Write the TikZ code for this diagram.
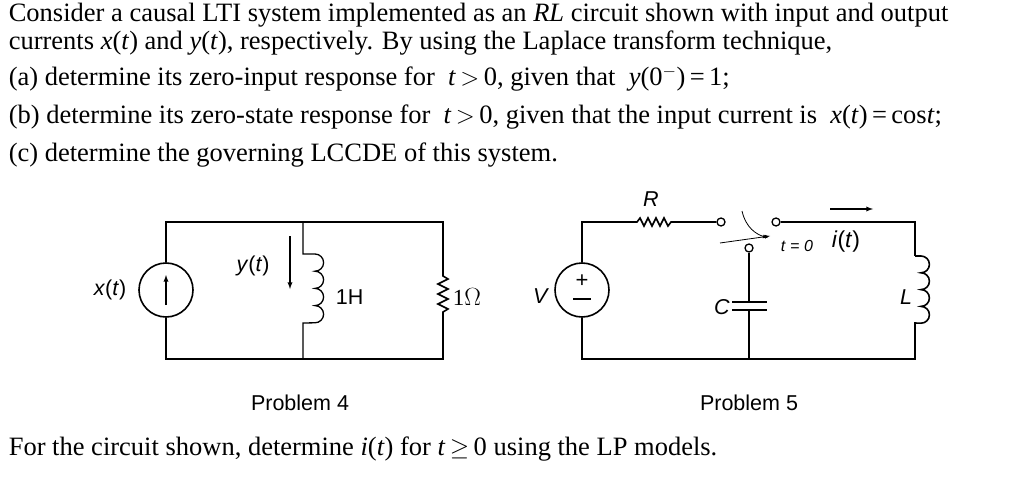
\documentclass[tikz,border=0pt]{standalone}
\usepackage{fontspec}
\setmainfont{Liberation Serif}
\newfontfamily\sansf{Liberation Sans}
\begin{document}
\begin{tikzpicture}[x=1pt,y=-1pt,line width=1.6pt,
  txt/.style={anchor=base west,inner sep=0,font=\fontsize{26.5}{30}\selectfont},
  lab/.style={inner sep=0,font=\sansf\fontsize{21.5}{24}\selectfont},
  term/.style={circle,draw,fill=white,line width=1.3pt,minimum size=8pt,inner sep=0}]
\useasboundingbox (0,0) rectangle (1024,489);
% text
\node[txt] (l1) at (8,22) {Consider a causal LTI system implemented as an \textit{RL} circuit shown with input and output};
\node[txt] (l2) at (8,50) {currents \textit{x}(\textit{t}) and \textit{y}(\textit{t}), respectively. By using the Laplace transform technique,};
\node[txt] (l3) at (8,86) {(a) determine its zero-input response for \ \textit{t}\,$>$\,0, given that \ \textit{y}(0$^{-}$)\,=\,1;};
\node[txt] (l4) at (8,124) {(b) determine its zero-state response for \ \textit{t}\,$>$\,0, given that the input current is \ \textit{x}(\textit{t})\,=\,cos\textit{t};};
\node[txt] (l5) at (8,161) {(c) determine the governing LCCDE of this system.};
\node[txt] (l6) at (8,455) {For the circuit shown, determine \textit{i}(\textit{t}) for \textit{t}\,$\geq$\,0 using the LP models.};
\node[lab] (p4) at (300,403) {Problem 4};
\node[lab] (p5) at (749,403) {Problem 5};
% Problem 4
\node[circle,draw,minimum size=54pt,inner sep=0] (xs) at (166,290) {};
\coordinate (a1) at (166,222); \coordinate (a2) at (303,222); \coordinate (a3) at (443,222);
\coordinate (b1) at (166,359); \coordinate (b2) at (303,359); \coordinate (b3) at (443,359);
\draw (xs.north) -- (a1) -- (a3) -- (443,276) -- (448,279) -- (438,284) -- (448,289) -- (438,294) -- (448,299) -- (438,304) -- (448,309) -- (443,312) -- (b3) -- (b1) -- (xs.south);
\draw[line width=1.3pt] (a2) -- (303,254) -- (315,254) arc (90:-90:8.6pt and 8.6pt) arc (90:-90:8.6pt and 8.6pt) arc (90:-90:8.6pt and 8.6pt) arc (90:-90:8.6pt and 8.6pt) -- (303,323) -- (b2);
\draw[-latex,line width=1.3pt] (166,305) -- (166,275);
\draw[-latex,line width=1.3pt] (290,236) -- (290,289);
\node[lab] (xl) at (110,290) {\textit{x}(\textit{t})};
\node[lab] (yl) at (253,266) {\textit{y}(\textit{t})};
\node[lab,anchor=west] (hl) at (335,297) {1H};
\node[lab,anchor=west,font=\fontsize{23}{24}\selectfont] (rl) at (452,297) {1$\Omega$};
% Problem 5
\node[circle,draw,minimum size=54pt,inner sep=0] (vs) at (582,290) {};
\node[inner sep=0,font=\sansf\fontsize{22}{22}\selectfont] at (582,281) {+};
\draw (573,299) -- (591,299);
\node[lab] (vl) at (541,296) {\textit{V}};
\node[term] (t1) at (721,222) {};
\node[term] (t2) at (776,222) {};
\node[term] (t3) at (749,248) {};
\draw (vs.north) -- (582,222) -- (637,222) -- (640,218) -- (644,226) -- (648,218) -- (652,226) -- (656,218) -- (660,226) -- (664,218) -- (668,226) -- (671,222) -- (t1);
\draw (t2) -- (915,222) -- (915,256);
\draw (915,256) -- (921,256) arc (90:-90:8.4pt and 8.4pt) arc (90:-90:8.4pt and 8.4pt) arc (90:-90:8.4pt and 8.4pt) arc (90:-90:8.4pt and 8.4pt) -- (915,323) -- (915,359) -- (582,359) -- (vs.south);
\draw (t3) -- (749,302); \draw (749,310) -- (749,359);
\draw (732,302) -- (767,302); \draw (732,310) -- (767,310);
\draw[-latex,line width=0.8pt] (720,243) -- (770,236);
\draw[-latex,line width=0.8pt] (742,211) .. controls (746,228) and (756,234) .. (768,238);
\node[lab] (rlab) at (651,199) {\textit{R}};
\node[lab] (clab) at (722,307) {\textit{C}};
\node[lab] (llab) at (906,297) {\textit{L}};
\node[lab,font=\sansf\fontsize{16}{16}\selectfont] (sw) at (797,246) {\textit{t} = \textit{0}};
\node[lab,font=\sansf\fontsize{23}{24}\selectfont] (il) at (846,242) {\textit{i}(\textit{t})};
\draw[-latex,line width=1.3pt] (830,209) -- (873,209);
\end{tikzpicture}
\end{document}
